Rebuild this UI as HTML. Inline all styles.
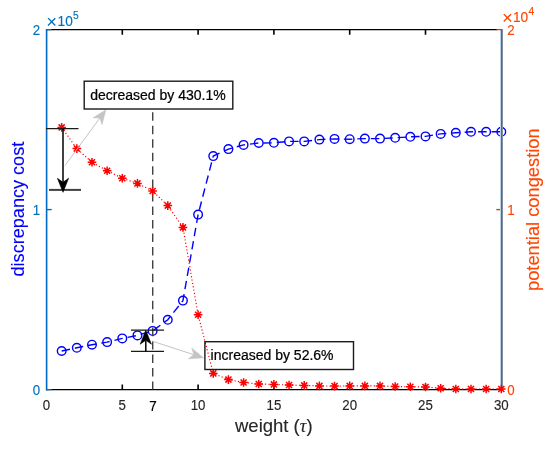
<!DOCTYPE html>
<html><head><meta charset="utf-8"><title>plot</title>
<style>html,body{margin:0;padding:0;background:#fff;}body{width:550px;height:449px;overflow:hidden;}svg{display:block;}</style>
</head><body>
<svg width="550" height="449" viewBox="0 0 550 449"><rect width="550" height="449" fill="#fff"/><line x1="46" y1="29.6" x2="497" y2="29.6" stroke="#000" stroke-width="1.3"/><line x1="46" y1="389.6" x2="501.3" y2="389.6" stroke="#000" stroke-width="1.3"/><path d="M46 29.6H51.5M46 389.6H51.5" stroke="#0072BD" stroke-width="1.4"/><line x1="46.6" y1="29" x2="46.6" y2="390.2" stroke="#0068C2" stroke-width="1.6"/><path d="M122.30 389.6V384.4M122.30 29.6V34.8M198.10 389.6V384.4M198.10 29.6V34.8M273.90 389.6V384.4M273.90 29.6V34.8M349.70 389.6V384.4M349.70 29.6V34.8M425.50 389.6V384.4M425.50 29.6V34.8" stroke="#000" stroke-width="1.6"/><path d="M46.5 209.6H51.7" stroke="#0072BD" stroke-width="1.4"/><path d="M501.5 209.6H496.3" stroke="#C04A1C" stroke-width="1.4"/><polyline points="61.66,351.00 76.82,347.80 91.98,344.70 107.14,342.10 122.30,338.40 137.46,335.40 152.62,330.90 167.78,319.80 182.94,300.60 198.10,214.60 213.26,156.10 228.42,149.10 243.58,144.90 258.74,143.00 273.90,142.80 289.06,141.40 304.22,141.40 319.38,139.60 334.54,138.90 349.70,139.20 364.86,138.60 380.02,138.60 395.18,137.80 410.34,136.80 425.50,136.40 440.66,133.90 455.82,132.80 470.98,131.80 486.14,131.80 501.30,131.80" fill="none" stroke="#0000FF" stroke-width="1.4" stroke-dasharray="8.5 4.96"/><g fill="none" stroke="#0000FF" stroke-width="1.4"><circle cx="61.66" cy="351.00" r="4.3"/><circle cx="76.82" cy="347.80" r="4.3"/><circle cx="91.98" cy="344.70" r="4.3"/><circle cx="107.14" cy="342.10" r="4.3"/><circle cx="122.30" cy="338.40" r="4.3"/><circle cx="137.46" cy="335.40" r="4.3"/><circle cx="152.62" cy="330.90" r="4.3"/><circle cx="167.78" cy="319.80" r="4.3"/><circle cx="182.94" cy="300.60" r="4.3"/><circle cx="198.10" cy="214.60" r="4.3"/><circle cx="213.26" cy="156.10" r="4.3"/><circle cx="228.42" cy="149.10" r="4.3"/><circle cx="243.58" cy="144.90" r="4.3"/><circle cx="258.74" cy="143.00" r="4.3"/><circle cx="273.90" cy="142.80" r="4.3"/><circle cx="289.06" cy="141.40" r="4.3"/><circle cx="304.22" cy="141.40" r="4.3"/><circle cx="319.38" cy="139.60" r="4.3"/><circle cx="334.54" cy="138.90" r="4.3"/><circle cx="349.70" cy="139.20" r="4.3"/><circle cx="364.86" cy="138.60" r="4.3"/><circle cx="380.02" cy="138.60" r="4.3"/><circle cx="395.18" cy="137.80" r="4.3"/><circle cx="410.34" cy="136.80" r="4.3"/><circle cx="425.50" cy="136.40" r="4.3"/><circle cx="440.66" cy="133.90" r="4.3"/><circle cx="455.82" cy="132.80" r="4.3"/><circle cx="470.98" cy="131.80" r="4.3"/><circle cx="486.14" cy="131.80" r="4.3"/><circle cx="501.30" cy="131.80" r="4.3"/></g><line x1="500.5" y1="29" x2="500.5" y2="390.2" stroke="#B8DCF2" stroke-width="1"/><line x1="502.5" y1="29" x2="502.5" y2="390.2" stroke="#8592AA" stroke-width="1"/><line x1="501.5" y1="29" x2="501.5" y2="390.2" stroke="#B84818" stroke-width="1.1"/><line x1="496.5" y1="29.6" x2="502" y2="29.6" stroke="#C84414" stroke-width="1.3"/><line x1="152.72" y1="112.3" x2="152.72" y2="389.6" stroke="#404040" stroke-width="1.4" stroke-dasharray="8.5 4.96"/><polyline points="61.66,127.40 76.82,148.60 91.98,162.30 107.14,170.70 122.30,178.30 137.46,183.40 152.62,191.00 167.78,205.60 182.94,227.40 198.10,314.80 213.26,373.40 228.42,379.60 243.58,382.50 258.74,384.00 273.90,384.40 289.06,385.00 304.22,385.40 319.38,385.90 334.54,386.10 349.70,385.90 364.86,385.90 380.02,385.90 395.18,386.50 410.34,386.80 425.50,387.00 440.66,388.30 455.82,389.00 470.98,389.00 486.14,389.00 501.30,389.00" fill="none" stroke="#FF0000" stroke-width="1.15" stroke-dasharray="1.2 2.2" /><path d="M57.36 127.40H65.96M61.66 123.10V131.70M58.62 124.36L64.70 130.44M58.62 130.44L64.70 124.36M72.52 148.60H81.12M76.82 144.30V152.90M73.78 145.56L79.86 151.64M73.78 151.64L79.86 145.56M87.68 162.30H96.28M91.98 158.00V166.60M88.94 159.26L95.02 165.34M88.94 165.34L95.02 159.26M102.84 170.70H111.44M107.14 166.40V175.00M104.10 167.66L110.18 173.74M104.10 173.74L110.18 167.66M118.00 178.30H126.60M122.30 174.00V182.60M119.26 175.26L125.34 181.34M119.26 181.34L125.34 175.26M133.16 183.40H141.76M137.46 179.10V187.70M134.42 180.36L140.50 186.44M134.42 186.44L140.50 180.36M148.32 191.00H156.92M152.62 186.70V195.30M149.58 187.96L155.66 194.04M149.58 194.04L155.66 187.96M163.48 205.60H172.08M167.78 201.30V209.90M164.74 202.56L170.82 208.64M164.74 208.64L170.82 202.56M178.64 227.40H187.24M182.94 223.10V231.70M179.90 224.36L185.98 230.44M179.90 230.44L185.98 224.36M193.80 314.80H202.40M198.10 310.50V319.10M195.06 311.76L201.14 317.84M195.06 317.84L201.14 311.76M208.96 373.40H217.56M213.26 369.10V377.70M210.22 370.36L216.30 376.44M210.22 376.44L216.30 370.36M224.12 379.60H232.72M228.42 375.30V383.90M225.38 376.56L231.46 382.64M225.38 382.64L231.46 376.56M239.28 382.50H247.88M243.58 378.20V386.80M240.54 379.46L246.62 385.54M240.54 385.54L246.62 379.46M254.44 384.00H263.04M258.74 379.70V388.30M255.70 380.96L261.78 387.04M255.70 387.04L261.78 380.96M269.60 384.40H278.20M273.90 380.10V388.70M270.86 381.36L276.94 387.44M270.86 387.44L276.94 381.36M284.76 385.00H293.36M289.06 380.70V389.30M286.02 381.96L292.10 388.04M286.02 388.04L292.10 381.96M299.92 385.40H308.52M304.22 381.10V389.70M301.18 382.36L307.26 388.44M301.18 388.44L307.26 382.36M315.08 385.90H323.68M319.38 381.60V390.20M316.34 382.86L322.42 388.94M316.34 388.94L322.42 382.86M330.24 386.10H338.84M334.54 381.80V390.40M331.50 383.06L337.58 389.14M331.50 389.14L337.58 383.06M345.40 385.90H354.00M349.70 381.60V390.20M346.66 382.86L352.74 388.94M346.66 388.94L352.74 382.86M360.56 385.90H369.16M364.86 381.60V390.20M361.82 382.86L367.90 388.94M361.82 388.94L367.90 382.86M375.72 385.90H384.32M380.02 381.60V390.20M376.98 382.86L383.06 388.94M376.98 388.94L383.06 382.86M390.88 386.50H399.48M395.18 382.20V390.80M392.14 383.46L398.22 389.54M392.14 389.54L398.22 383.46M406.04 386.80H414.64M410.34 382.50V391.10M407.30 383.76L413.38 389.84M407.30 389.84L413.38 383.76M421.20 387.00H429.80M425.50 382.70V391.30M422.46 383.96L428.54 390.04M422.46 390.04L428.54 383.96M436.36 388.30H444.96M440.66 384.00V392.60M437.62 385.26L443.70 391.34M437.62 391.34L443.70 385.26M451.52 389.00H460.12M455.82 384.70V393.30M452.78 385.96L458.86 392.04M452.78 392.04L458.86 385.96M466.68 389.00H475.28M470.98 384.70V393.30M467.94 385.96L474.02 392.04M467.94 392.04L474.02 385.96M481.84 389.00H490.44M486.14 384.70V393.30M483.10 385.96L489.18 392.04M483.10 392.04L489.18 385.96M497.00 389.00H505.60M501.30 384.70V393.30M498.26 385.96L504.34 392.04M498.26 392.04L504.34 385.96" fill="none" stroke="#FF0000" stroke-width="1.5"/><line x1="46" y1="128.6" x2="78.5" y2="128.6" stroke="#1a1a1a" stroke-width="1.4"/><line x1="49" y1="189.9" x2="81" y2="189.9" stroke="#404040" stroke-width="2"/><line x1="63.00" y1="128.60" x2="63.00" y2="182.30" stroke="#000" stroke-width="1.5"/><polygon points="63.00,192.30 57.40,178.30 63.00,182.30 68.60,178.30" fill="#000" stroke="#000" stroke-width="0.6" stroke-linejoin="miter"/><line x1="131" y1="330.1" x2="164" y2="330.1" stroke="#1a1a1a" stroke-width="1.4"/><line x1="131" y1="351.4" x2="164" y2="351.4" stroke="#1a1a1a" stroke-width="1.4"/><line x1="145.80" y1="351.40" x2="145.80" y2="340.20" stroke="#000" stroke-width="1.5"/><polygon points="145.80,330.20 151.40,344.20 145.80,340.20 140.20,344.20" fill="#000" stroke="#000" stroke-width="0.6" stroke-linejoin="miter"/><line x1="65.00" y1="165.50" x2="99.88" y2="117.96" stroke="#C4C4C4" stroke-width="1.0"/><polygon points="105.80,109.90 102.03,124.50 99.88,117.96 93.00,117.87" fill="#C4C4C4" stroke="#C4C4C4" stroke-width="0.6" stroke-linejoin="miter"/><line x1="152.30" y1="341.20" x2="193.89" y2="354.71" stroke="#C4C4C4" stroke-width="1.0"/><polygon points="203.40,357.80 188.35,358.80 193.89,354.71 191.82,348.15" fill="#C4C4C4" stroke="#C4C4C4" stroke-width="0.6" stroke-linejoin="miter"/><rect x="84.2" y="81.2" width="148.6" height="27.8" fill="none" stroke="#1a1a1a" stroke-width="1.4"/><rect x="204.9" y="341.7" width="148.6" height="27.8" fill="none" stroke="#1a1a1a" stroke-width="1.4"/><g font-family="Liberation Sans, Arial, Helvetica, sans-serif" font-size="14" fill="#000" stroke="#000" stroke-width="0.22"><text x="90.2" y="99.9">decreased by 430.1%</text><text x="210.6" y="360.4">increased by 52.6%</text></g><g font-family="Liberation Sans, Arial, Helvetica, sans-serif"><text transform="translate(46.50 409.60) scale(0.95 1)" font-size="14" fill="#262626" text-anchor="middle"  stroke="#262626" stroke-width="0.15">0</text><text transform="translate(122.30 409.60) scale(0.95 1)" font-size="14" fill="#262626" text-anchor="middle"  stroke="#262626" stroke-width="0.15">5</text><text transform="translate(198.10 409.60) scale(0.95 1)" font-size="14" fill="#262626" text-anchor="middle"  stroke="#262626" stroke-width="0.15">10</text><text transform="translate(273.90 409.60) scale(0.95 1)" font-size="14" fill="#262626" text-anchor="middle"  stroke="#262626" stroke-width="0.15">15</text><text transform="translate(349.70 409.60) scale(0.95 1)" font-size="14" fill="#262626" text-anchor="middle"  stroke="#262626" stroke-width="0.15">20</text><text transform="translate(425.50 409.60) scale(0.95 1)" font-size="14" fill="#262626" text-anchor="middle"  stroke="#262626" stroke-width="0.15">25</text><text transform="translate(501.30 409.60) scale(0.95 1)" font-size="14" fill="#262626" text-anchor="middle"  stroke="#262626" stroke-width="0.15">30</text><text transform="translate(152.92 410.70) scale(0.95 1)" font-size="14.2" fill="#000" text-anchor="middle"  stroke="#000" stroke-width="0.22">7</text><text transform="translate(40.20 35.00) scale(0.95 1)" font-size="14" fill="#0072BD" text-anchor="end"  stroke="#0072BD" stroke-width="0.15">2</text><text transform="translate(507.20 35.00) scale(0.95 1)" font-size="14" fill="#FF4500" text-anchor="start"  stroke="#FF4500" stroke-width="0.15">2</text><text transform="translate(40.20 214.70) scale(0.95 1)" font-size="14" fill="#0072BD" text-anchor="end"  stroke="#0072BD" stroke-width="0.15">1</text><text transform="translate(507.20 214.70) scale(0.95 1)" font-size="14" fill="#FF4500" text-anchor="start"  stroke="#FF4500" stroke-width="0.15">1</text><text transform="translate(40.20 394.80) scale(0.95 1)" font-size="14" fill="#0072BD" text-anchor="end"  stroke="#0072BD" stroke-width="0.15">0</text><text transform="translate(507.20 394.80) scale(0.95 1)" font-size="14" fill="#FF4500" text-anchor="start"  stroke="#FF4500" stroke-width="0.15">0</text><text x="46.2" y="28.3" font-size="18.5" fill="#0072BD" stroke="none">×</text><text transform="translate(57.60 26.40) scale(0.95 1)" font-size="14.4" fill="#0072BD" text-anchor="start"  stroke="#0072BD" stroke-width="0.15">10</text><text transform="translate(73.00 19.40) scale(0.95 1)" font-size="10.8" fill="#0072BD" text-anchor="start"  stroke="#0072BD" stroke-width="0.15">5</text><text x="501.9" y="24.2" font-size="18.5" fill="#FF4500" stroke="none">×</text><text transform="translate(512.90 22.30) scale(0.95 1)" font-size="14.4" fill="#FF4500" text-anchor="start"  stroke="#FF4500" stroke-width="0.15">10</text><text transform="translate(528.40 15.10) scale(0.95 1)" font-size="10.8" fill="#FF4500" text-anchor="start"  stroke="#FF4500" stroke-width="0.15">4</text></g><text font-family="Liberation Sans, Arial, Helvetica, sans-serif" font-size="18.5" fill="#262626" x="235" y="432" stroke="#262626" stroke-width="0.12">weight (<tspan font-family="Liberation Serif, serif" font-style="italic">τ</tspan>)</text><text font-family="Liberation Sans, Arial, Helvetica, sans-serif" font-size="18.1" fill="#0000FF" transform="translate(24.3 276.5) rotate(-90)" stroke="#0000FF" stroke-width="0.12">discrepancy cost</text><text font-family="Liberation Sans, Arial, Helvetica, sans-serif" font-size="18.3" fill="#FF4500" transform="translate(539.2 291) rotate(-90)" stroke="#FF4500" stroke-width="0.12">potential congestion</text></svg>
</body></html>
